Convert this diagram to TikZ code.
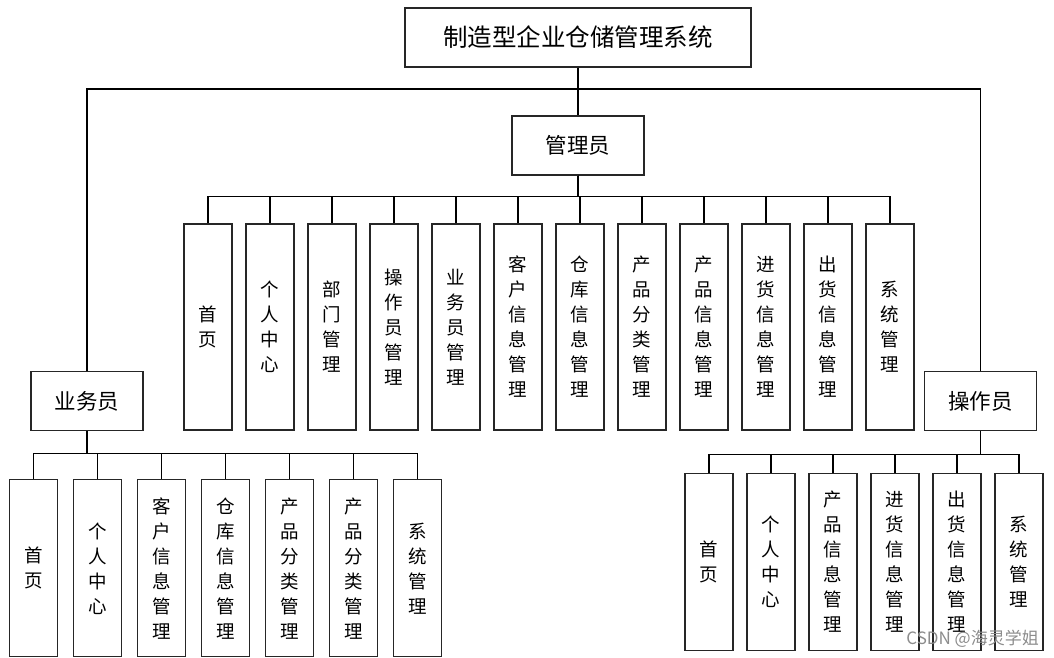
\documentclass[tikz,border=0pt]{standalone}
\usepackage{fontspec}
\newfontfamily\cjk{Noto Sans CJK SC}
\usetikzlibrary{calc}
\begin{document}
\begin{tikzpicture}[x=1pt,y=-1pt,
  box/.style={draw=black!85,line width=1.3pt,inner sep=0pt,align=center},
  title/.style={box,minimum width=346pt,minimum height=59pt,font=\cjk\fontsize{24.5}{28}\selectfont},
  role/.style={box,minimum height=59pt,font=\cjk\fontsize{21.5}{26}\selectfont},
  leaf/.style={box,minimum width=48pt,font=\cjk\fontsize{18.5}{25}\selectfont},
  conn/.style={draw=black,line width=1.2pt}]
\useasboundingbox (0,0) rectangle (1054,658);
% top levels
\node[title] (sys) at (578,37.5) {制造型企业仓储管理系统};
\node[role,minimum width=132pt] (adm) at (578,145.5) {管理员};
\node[role,minimum width=112pt] (ywy) at (87,401) {业务员};
\node[role,minimum width=112pt] (czy) at (980.5,401) {操作员};
\coordinate (j1) at (578,89);
\draw[conn] (sys.south) -- (adm.north);
\draw[conn] (j1) -| (ywy.north);
\draw[conn] (j1) -| (czy.north);
% admin children
\foreach \i/\t in {1/{首\\页},2/{个\\人\\中\\心},3/{部\\门\\管\\理},4/{操\\作\\员\\管\\理},5/{业\\务\\员\\管\\理},6/{客\\户\\信\\息\\管\\理},7/{仓\\库\\信\\息\\管\\理},8/{产\\品\\分\\类\\管\\理},9/{产\\品\\信\\息\\管\\理},10/{进\\货\\信\\息\\管\\理},11/{出\\货\\信\\息\\管\\理},12/{系\\统\\管\\理}}{
  \node[leaf,minimum height=206pt] (a\i) at ({208+62*(\i-1)},327) {\t};
  \draw[conn] (adm.south) -- ++(0,21) -| (a\i.north);
}
% ywy children
\foreach \i/\t in {1/{首\\页},2/{个\\人\\中\\心},3/{客\\户\\信\\息\\管\\理},4/{仓\\库\\信\\息\\管\\理},5/{产\\品\\分\\类\\管\\理},6/{产\\品\\分\\类\\管\\理},7/{系\\统\\管\\理}}{
  \node[leaf,minimum height=177pt] (b\i) at ({33.3+64*(\i-1)},568.3) {\t};
  \draw[conn] (ywy.south) -- ++(0,22.5) -| (b\i.north);
}
% czy children
\foreach \i/\t in {1/{首\\页},2/{个\\人\\中\\心},3/{产\\品\\信\\息\\管\\理},4/{进\\货\\信\\息\\管\\理},5/{出\\货\\信\\息\\管\\理},6/{系\\统\\管\\理}}{
  \node[leaf,minimum height=177pt] (c\i) at ({709+62*(\i-1)},561.7) {\t};
  \draw[conn] (czy.south) -- ++(0,23) -| (c\i.north);
}
% watermark
\node[font=\cjk\fontsize{17}{20}\selectfont,text=black!45,inner sep=0pt,anchor=east] (wm) at (1039,639) {CSDN @海灵学姐};
\end{tikzpicture}
\end{document}
